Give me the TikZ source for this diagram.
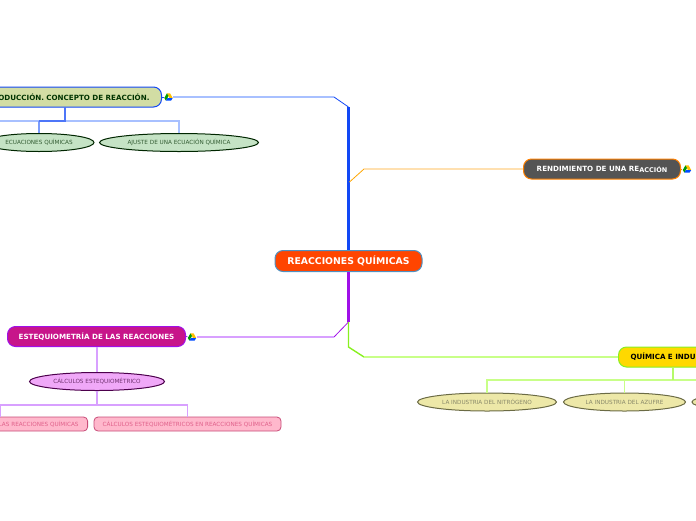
\documentclass[tikz,border=0pt]{standalone}
\usepackage{fontspec}
\setmainfont{DejaVu Sans}
\usepackage{xcolor}
\usetikzlibrary{shapes.geometric, positioning}
\definecolor{trunkblue}{HTML}{1248F5}
\definecolor{trunkpurple}{HTML}{A010E8}
\definecolor{trunkgreen}{HTML}{88F020}
\definecolor{paleblue}{HTML}{A8C0FF}
\definecolor{paleorange}{HTML}{FFE0B0}
\definecolor{palepurple}{HTML}{D8A0FF}
\definecolor{palegreen}{HTML}{C8FF88}
\definecolor{rootfill}{HTML}{FF4500}
\definecolor{rootline}{HTML}{5090C0}
\definecolor{introfill}{HTML}{D2DDA4}
\definecolor{greenoval}{HTML}{C5E3C5}
\definecolor{esteqfill}{HTML}{C7158A}
\definecolor{purpleoval}{HTML}{F0A8F8}
\definecolor{pinkfill}{HTML}{FFB8CC}
\definecolor{pinkline}{HTML}{C84C78}
\definecolor{pinktext}{HTML}{E0608A}
\definecolor{indfill}{HTML}{FFD800}
\definecolor{yellowoval}{HTML}{EDE8A8}
\definecolor{ovalline}{HTML}{6B6B45}
\tikzset{
    rootbox/.style = {rectangle, rounded corners=8pt, minimum width=147pt, minimum height=21pt, text centered, draw=rootline, line width=1pt, fill=rootfill, text=white, font=\fontsize{9.3}{11}\selectfont\bfseries},
    topicbox/.style = {rectangle, rounded corners=8pt, minimum height=20pt, inner xsep=0pt, line width=1pt, font=\fontsize{7.15}{9}\selectfont\bfseries},
    ovalbox/.style = {ellipse, minimum height=18pt, inner sep=0pt, line width=1pt, font=\fontsize{5.7}{7}\selectfont},
    pinkbox/.style = {rectangle, rounded corners=4pt, minimum height=14pt, inner xsep=0pt, line width=0.8pt, draw=pinkline, fill=pinkfill, text=pinktext, font=\fontsize{5.7}{7}\selectfont},
    thinline/.style = {line width=1.2pt},
    trunk/.style = {line width=2.4pt},
    driveicon/.style = {inner sep=0pt, minimum size=9pt, path picture={
        \begin{scope}[shift={(path picture bounding box.center)}]
        \fill[orange!50!yellow] (-1.6,-3.6) -- (1.6,-3.6) -- (4.2,1) -- (1,1) -- cycle;
        \fill[green!60!black] (-1.6,-3.6) -- (-4.2,1) -- (-2.6,3.6) -- (0,-1) -- cycle;
        \fill[blue!70!cyan] (-2.6,3.6) -- (2.6,3.6) -- (4.2,1) -- (-1,1) -- cycle;
        \end{scope}}}
}
\begin{document}
\begin{tikzpicture}[x=1pt, y=-1pt]
\clip (0,0) rectangle (696,520);

\node (raiz) [rootbox] at (348.5,261) {REACCIONES QUÍMICAS};

\node (intro) [topicbox, anchor=east, draw=trunkblue, fill=introfill, text=green!20!black, text width=210pt, align=right] at (162,97) {INTRODUCCIÓN. CONCEPTO DE REACCIÓN.\hspace*{12pt}};
\node (introdrive) [driveicon] at (168.5,97) {};
\node (ecuaciones) [ovalbox, draw=black!85!green, fill=greenoval, text=green!20!black!80!white, minimum width=110pt] at (39,142.5) {ECUACIONES QUÍMICAS};
\node (ajuste) [ovalbox, draw=black!85!green, fill=greenoval, text=green!20!black!80!white, minimum width=159pt] at (179,142.5) {AJUSTE DE UNA ECUACIÓN QUÍMICA};

\node (rendimiento) [topicbox, draw=orange, fill=black!67, text=white, minimum width=157pt] at (602,169) {RENDIMIENTO DE UNA RE\raisebox{-0.8pt}{\fontsize{6.5}{8}\selectfont ACCIÓN}};
\node (rendimientodrive) [driveicon] at (687,169) {};

\node (esteq) [topicbox, draw=trunkpurple, fill=esteqfill, text=white, minimum width=178pt] at (96.5,336.5) {ESTEQUIOMETRÍA DE LAS REACCIONES};
\node (esteqdrive) [driveicon] at (192,337) {};
\node (calculos) [ovalbox, draw=violet!60!black, fill=purpleoval, text=violet!60!black!80!white, minimum width=135pt] at (97,381.5) {CÁLCULOS ESTEQUIOMÉTRICO};
\node (reacciones) [pinkbox, anchor=east, text width=176pt, align=right] at (88,424) {LAS REACCIONES QUÍMICAS\hspace*{9pt}};
\node (calcreac) [pinkbox, minimum width=187pt] at (187.5,424) {CÁLCULOS ESTEQUIOMÉTRICOS EN REACCIONES QUÍMICAS};

\node (industria) [topicbox, anchor=west, draw=trunkgreen, fill=indfill, text=black, align=left, text width=120pt] at (618,357) {\hspace*{12pt}QUÍMICA E INDUSTRIA};
\node (nitrogeno) [ovalbox, draw=ovalline, fill=yellowoval, text=ovalline!80!white, minimum width=139pt] at (487,402) {LA INDUSTRIA DEL NITRÓGENO};
\node (azufre) [ovalbox, draw=ovalline, fill=yellowoval, text=ovalline!80!white, minimum width=122pt] at (624.5,402) {LA INDUSTRIA DEL AZUFRE};
\node (otra) [ovalbox, draw=ovalline, fill=yellowoval, minimum width=120pt, anchor=west] at (691.5,402) {};

\coordinate (codoazul) at (348.5,107);
\coordinate (codomorado) at (348.5,322);
\coordinate (codoverde) at (348.5,347);
\coordinate (codonaranja) at (349.5,182);
\coordinate (ramaintro) at (65,121);
\coordinate (ramacalc) at (97,405);
\coordinate (ramaind) at (673,380);

% tronco
\draw [paleblue, thinline] (introdrive) -- (334,97) coordinate (a1);
\draw [trunkblue, line width=0.8pt] (a1) -- (codoazul);
\draw [trunkblue, trunk] (codoazul) -- (raiz.north -| codoazul);
\draw [orange!70!yellow, line width=0.8pt] (codonaranja) -- (364,169) coordinate (a2);
\draw [paleorange, line width=1.4pt] (a2) -- (rendimiento.west);
\draw [trunkpurple, trunk] (raiz.south -| codomorado) -- (codomorado);
\draw [trunkpurple, line width=0.8pt] (codomorado) -- (334,337) coordinate (a3);
\draw [palepurple, thinline] (a3) -- (esteqdrive);
\draw [trunkgreen, line width=1.4pt] (codomorado) -- (codoverde) -- (364,357) coordinate (a4);
\draw [palegreen, thinline] (a4) -- (industria.west);
\draw [trunkblue, line width=0.8pt] (intro.east) -- (introdrive);
\draw [orange, line width=0.8pt] (rendimiento.east) -- (rendimientodrive);
\draw [trunkpurple, line width=0.8pt] (esteq.east) -- (esteqdrive);

% ramas
\draw [paleblue, thinline] (-10,121) -- (ajuste.north |- ramaintro) -- (ajuste.north);
\draw [paleblue!70!trunkblue, thinline] (ecuaciones.north |- ramaintro) -- (ecuaciones.north);
\draw [trunkblue!75!white, line width=1.3pt] (65,107) -- (ramaintro) -- (ecuaciones.north |- ramaintro);
\draw [palepurple, thinline] (esteq.south -| calculos) -- (calculos.north);
\draw [palepurple, line width=1.8pt] (calculos.south) -- (ramacalc);
\draw [palepurple, thinline] (0.5,417) -- (0.5,405) -- (calcreac.north |- ramacalc) -- (calcreac.north);
\draw [palegreen, thinline] (nitrogeno.north) -- (nitrogeno.north |- ramaind) -- (700,380);
\draw [palegreen, thinline] (azufre.north |- ramaind) -- (azufre.north);
\draw [palegreen!70!trunkgreen, line width=1.2pt] (ramaind) -- (ramaind |- industria.south);
\end{tikzpicture}
\end{document}
